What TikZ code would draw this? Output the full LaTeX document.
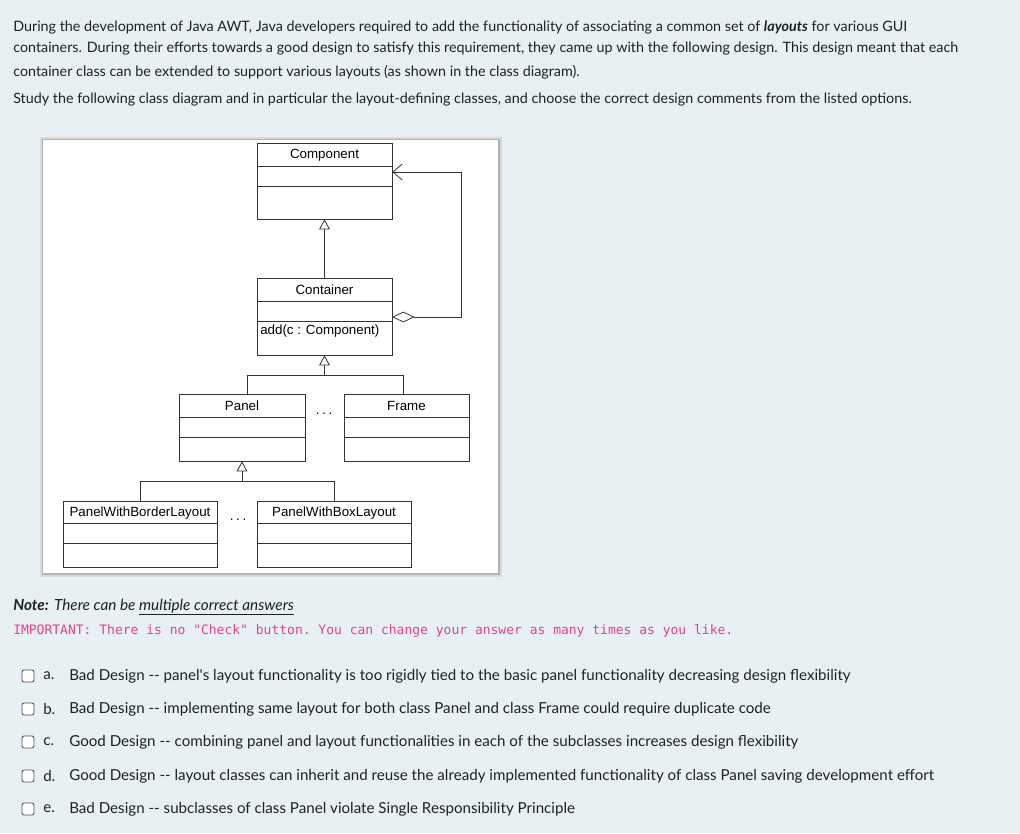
\documentclass[tikz,border=0pt]{standalone}
\usepackage{fontspec}
\setmainfont{Lato}
\newfontfamily\diafont{Liberation Sans}
\setmonofont{DejaVu Sans Mono}
\usetikzlibrary{arrows.meta}
\definecolor{bgc}{HTML}{E7F1F4}
\definecolor{pinkc}{HTML}{E83E8C}
\definecolor{txt}{HTML}{1D2125}
\begin{document}
\begin{tikzpicture}[x=0.75pt,y=-0.75pt,
  para/.style={anchor=west,inner sep=0,text=txt,font=\fontsize{10.75}{12}\selectfont},
  opt/.style={para,font=\fontsize{11.35}{12}\selectfont},
  cls/.style={draw=black!80,line width=0.6pt},
  lbl/.style={font=\diafont\fontsize{10}{11}\selectfont,inner sep=0},
  ln/.style={draw=black!80,line width=0.6pt},
  inh/.style={ln,-{Triangle[open,length=7.5pt,width=8pt]}},
  cbox/.style={draw=black!70,rounded corners=1.5pt,fill=white,line width=0.6pt,minimum size=9pt,inner sep=0}]
\fill[bgc] (0,0) rectangle (1020,833);
\useasboundingbox (0,0) rectangle (1020,833);
\node[para] (p1) at (13,27) {During the development of Java AWT, Java developers required to add the functionality of associating a common set of \textbf{\textit{layouts}} for various GUI};
\node[para] (p2) at (13,49) {containers. During their efforts towards a good design to satisfy this requirement, they came up with the following design. This design meant that each};
\node[para] (p3) at (13,72) {container class can be extended to support various layouts (as shown in the class diagram).};
\node[para] (p4) at (13,100) {Study the following class diagram and in particular the layout-defining classes, and choose the correct design comments from the listed options.};
% diagram frame
\fill[black!25] (41,138) rectangle (501,576);
\fill[black!15] (40,137) rectangle (502,577);
\fill[black!30] (42,139) rectangle (500,575);
\fill[white] (43,140) rectangle (498,573);
% classes
\newcommand\umlclass[7]{% name,x1,y1,x2,y2,d1,d2
  \draw[cls] (#2,#3) rectangle (#4,#5);
  \draw[cls] (#2,#6) -- (#4,#6);
  \draw[cls] (#2,#7) -- (#4,#7);
  \coordinate (#1-nw) at (#2,#3);
  \coordinate (#1-se) at (#4,#5);
}
\umlclass{comp}{257}{143}{392}{219}{166}{186}
\node[lbl] (tcomp) at (324.5,155) {Component};
\umlclass{cont}{257}{278}{392}{355}{301}{321}
\node[lbl] (tcont) at (324.5,290) {Container};
\node[lbl,anchor=west] (tadd) at (260,331) {add(c : Component)};
\umlclass{panel}{179}{394}{305}{461}{417}{437}
\node[lbl] (tpanel) at (242,406) {Panel};
\umlclass{frame}{344}{394}{469}{461}{417}{437}
\node[lbl] (tframe) at (406.5,406) {Frame};
\umlclass{pbl}{63}{501}{217}{567}{523}{543}
\node[lbl] (tpbl) at (140,513) {PanelWithBorderLayout};
\umlclass{pbx}{257}{501}{411}{567}{523}{543}
\node[lbl] (tpbx) at (334,513) {PanelWithBoxLayout};
\node[lbl] (d1) at (324,414) {.\hspace{2pt}.\hspace{2pt}.};
\node[lbl] (d2) at (238,520) {.\hspace{2pt}.\hspace{2pt}.};
% inheritance Container -> Component
\draw[inh] (324.5,278) -- (324.5,219.3);
% Panel/Frame -> Container
\coordinate (j1) at (324.5,375);
\draw[ln] (247,394) -- (247,375) -- (403,375) -- (403,394);
\draw[inh] (j1) -- (324.5,355.3);
% subclasses -> Panel
\coordinate (j2) at (242,481);
\draw[ln] (140,501) -- (140,481) -- (334,481) -- (334,501);
\draw[inh] (j2) -- (242,461.3);
% aggregation loop
\draw[ln,{Diamond[open,length=17pt,width=8pt]}-{Straight Barb[length=7pt,width=12pt]}] (392,317) -- (461,317) -- (461,172) -- (392.3,172);
% note
\node[para,font=\fontsize{11.5}{12}\selectfont] (note) at (13,607) {\textbf{\textit{Note:}} \textit{There can be \underline{multiple correct answers}}};
\node[para,text=pinkc,font=\ttfamily\fontsize{9.75}{11}\selectfont] (imp) at (13,631) {IMPORTANT: There is no "Check" button. You can change your answer as many times as you like.};
\foreach \y/\l/\t [count=\i] in {676/a./{Bad Design {-}{-} panel\textquotesingle s layout functionality is too rigidly tied to the basic panel functionality decreasing design flexibility},
  709/b./{Bad Design {-}{-} implementing same layout for both class Panel and class Frame could require duplicate code},
  742/c./{Good Design {-}{-} combining panel and layout functionalities in each of the subclasses increases design flexibility},
  776/d./{Good Design {-}{-} layout classes can inherit and reuse the already implemented functionality of class Panel saving development effort},
  809/e./{Bad Design {-}{-} subclasses of class Panel violate Single Responsibility Principle}}{
  \node[cbox] (cb\i) at (28,\y) {};
  \node[opt] (lab\i) at (43,\y) {\l};
  \node[opt] (opt\i) at (69,\y) {\t};
}
\end{tikzpicture}
\end{document}
